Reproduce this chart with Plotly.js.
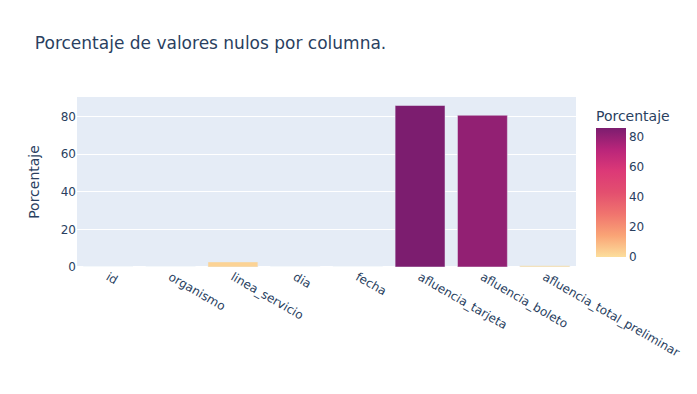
<!DOCTYPE html>
<html>
<head>
<meta charset="utf-8">
<script src="https://cdn.plot.ly/plotly-3.0.1.min.js"></script>
<style>html,body{margin:0;padding:0;}#chart{width:697px;height:394px;}</style>
</head>
<body>
<div id="chart"></div>
<script>
const columnas = ["id","organismo","linea_servicio","dia","fecha","afluencia_tarjeta","afluencia_boleto","afluencia_total_preliminar"];
const porcentaje = [0, 0, 2.7, 0, 0, 85.9, 80.7, 0.6];
const escala = [
  [0, "rgb(252, 222, 156)"],
  [0.1666, "rgb(250, 164, 118)"],
  [0.3333, "rgb(240, 116, 110)"],
  [0.5, "rgb(227, 79, 111)"],
  [0.6666, "rgb(220, 57, 119)"],
  [0.8333, "rgb(185, 37, 122)"],
  [1, "rgb(124, 29, 111)"]
];
Plotly.newPlot("chart", [{
  type: "bar",
  x: columnas,
  y: porcentaje,
  marker: {color: porcentaje, coloraxis: "coloraxis", line: {color: "#E5ECF6", width: 0.5}},
  hovertemplate: "columna=%{x}<br>Porcentaje=%{y}<extra></extra>"
}], {
  width: 697, height: 394,
  title: {text: "Porcentaje de valores nulos por columna.", x: 0.05, font: {size: 17, color: "#2a3f5f"}},
  margin: {l: 77, r: 121, t: 97, b: 127},
  paper_bgcolor: "white",
  plot_bgcolor: "#E5ECF6",
  font: {family: "'DejaVu Sans', verdana, sans-serif", size: 12, color: "#2a3f5f"},
  xaxis: {tickangle: 30, showgrid: false, automargin: false},
  yaxis: {title: {text: "Porcentaje", font: {size: 14}}, gridcolor: "white", zerolinecolor: "white", zerolinewidth: 2, automargin: false},
  coloraxis: {colorscale: escala, cmin: 0, cmax: 85.9,
    colorbar: {title: {text: "Porcentaje", font: {size: 14}}, thickness: 30, len: 1, outlinewidth: 0, ticklen: 0, tickvals: [0,20,40,60,80]}},
  bargap: 0.2
}, {displayModeBar: false});
</script>
</body>
</html>
